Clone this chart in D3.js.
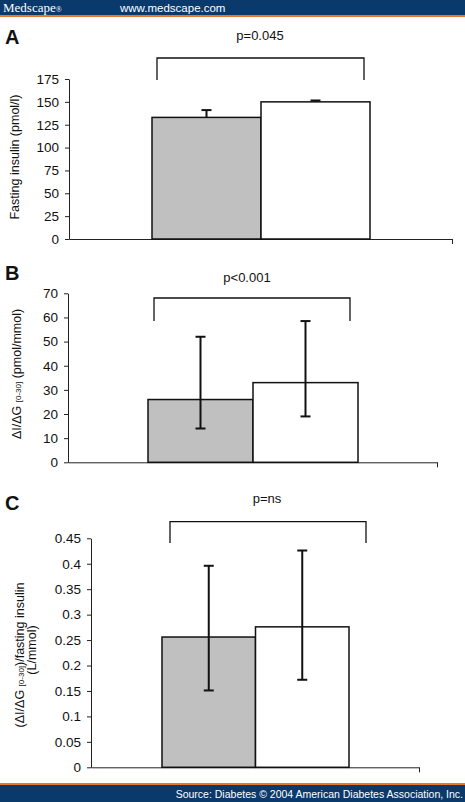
<!DOCTYPE html>
<html>
<head>
<meta charset="utf-8">
<script src="https://cdn.jsdelivr.net/npm/d3@7"></script>
<style>
  body { margin: 0; background: #fff; }
  svg { display: block; font-family: "Liberation Sans", Arial, sans-serif; }
  .tick text { font-size: 13px; fill: #111; }
</style>
</head>
<body>
<svg id="chart" width="465" height="802"></svg>
<script>
// two groups per panel: grey bar, white bar
const groups = ['grey', 'white'];

const insulinMean = [133, 150];
const insulinHigh = [141, 151.5];

const ratioMean = [26, 33];
const ratioHigh = [52, 58.5];
const ratioLow = [14, 19];

const normMean = [0.256, 0.276];
const normHigh = [0.396, 0.426];
const normLow = [0.151, 0.172];

const pLabels = ['p=0.045', 'p<0.001', 'p=ns'];
const insulinTicks = [0, 25, 50, 75, 100, 125, 150, 175];
const ratioTicks = [0, 10, 20, 30, 40, 50, 60, 70];
const normTicks = [0, 0.05, 0.1, 0.15, 0.2, 0.25, 0.3, 0.35, 0.4, 0.45];

const svg = d3.select('#chart');

// header / footer bands
svg.append('rect').attr('width', 465).attr('height', 15).style('fill', '#0a396c');
svg.append('rect').attr('y', 15).attr('width', 465).attr('height', 2).style('fill', '#e8792a');
svg.append('text').text('Medscape')
  .attr('x', 3).attr('y', 12)
  .style('font-family', '"Liberation Serif", "DejaVu Serif", serif')
  .style('font-size', '13px').style('fill', '#fff')
  .append('tspan').text('®').style('font-size', '8px');
svg.append('text').text('www.medscape.com')
  .attr('x', 120).attr('y', 12)
  .style('font-size', '11.5px').style('fill', '#fff');

svg.append('rect').attr('y', 783).attr('width', 465).attr('height', 2).style('fill', '#e8792a');
svg.append('rect').attr('y', 785).attr('width', 465).attr('height', 17).style('fill', '#0a396c');
svg.append('text').text('Source: Diabetes \u00a9 2004 American Diabetes Association, Inc.')
  .attr('x', 463).attr('y', 798).attr('text-anchor', 'end')
  .style('font-size', '10.5px').style('fill', '#fff');

const panels = [
  { letter: 'A', letterY: 44, mean: insulinMean, high: insulinHigh, low: null,
    ticks: insulinTicks, fmt: d3.format('d'),
    axisX: 69, axisEnd: 452, top: 79, base: 239, barL: 152, barR: 370,
    pX: 260, pY: 40, brY: 58, brL: 157, brR: 364, brB: 80 },
  { letter: 'B', letterY: 280, mean: ratioMean, high: ratioHigh, low: ratioLow,
    ticks: ratioTicks, fmt: d3.format('d'),
    axisX: 68, axisEnd: 437, top: 293.3, base: 462.3, barL: 148, barR: 358,
    pX: 247, pY: 282, brY: 298, brL: 154, brR: 350, brB: 321 },
  { letter: 'C', letterY: 510, mean: normMean, high: normHigh, low: normLow,
    ticks: normTicks, fmt: d => d === 0 ? '0' : String(+d.toFixed(2)),
    axisX: 91, axisEnd: 419, top: 538.3, base: 767.3, barL: 162, barR: 349,
    pX: 267, pY: 503, brY: 521.7, brL: 170, brR: 366, brB: 543 }
];

panels.forEach((p, i) => {
  const g = svg.append('g');

  g.append('text').text(p.letter)
    .attr('x', 5).attr('y', p.letterY)
    .style('font-size', '20px').style('font-weight', 'bold').style('fill', '#111');

  const y = d3.scaleLinear()
    .domain([0, p.ticks[p.ticks.length - 1]])
    .range([p.base, p.top]);
  const x = d3.scaleBand().domain(groups).range([p.barL, p.barR]).padding(0);

  const yAxis = g.append('g')
    .attr('transform', `translate(${p.axisX},0)`)
    .call(d3.axisLeft(y).tickValues(p.ticks).tickFormat(p.fmt).tickSize(4).tickSizeOuter(0).tickPadding(6));
  yAxis.select('.domain').attr('stroke', '#222');
  yAxis.selectAll('.tick line').attr('stroke', '#222');
  yAxis.selectAll('.tick text').style('font-size', '13.5px');

  const xs = d3.scaleLinear().domain([0, 1]).range([p.axisX, p.axisEnd]);
  const xAxis = g.append('g')
    .attr('transform', `translate(0,${p.base})`)
    .call(d3.axisBottom(xs).tickValues([1]).tickFormat('').tickSize(5).tickSizeOuter(0));
  xAxis.select('.domain').attr('stroke', '#222');
  xAxis.selectAll('.tick line').attr('stroke', '#222');

  g.selectAll('.bar')
    .data(groups)
    .enter()
    .append('rect')
    .attr('class', 'bar')
    .attr('x', d => x(d))
    .attr('width', x.bandwidth())
    .attr('y', (d, j) => y(p.mean[j]))
    .attr('height', (d, j) => y(0) - y(p.mean[j]))
    .style('fill', d => d === 'grey' ? '#c0c0c0' : '#fff')
    .style('stroke', '#111')
    .style('stroke-width', 1.5);

  // error bars
  groups.forEach((d, j) => {
    const cx = x(d) + x.bandwidth() / 2;
    const yHi = y(p.high[j]);
    const yLo = p.low ? y(p.low[j]) : y(p.mean[j]);
    g.append('line')
      .attr('x1', cx).attr('x2', cx).attr('y1', yHi).attr('y2', yLo)
      .style('stroke', '#111').style('stroke-width', 2);
    g.append('line')
      .attr('x1', cx - 5).attr('x2', cx + 5).attr('y1', yHi).attr('y2', yHi)
      .style('stroke', '#111').style('stroke-width', 2);
    if (p.low) {
      g.append('line')
        .attr('x1', cx - 5).attr('x2', cx + 5).attr('y1', yLo).attr('y2', yLo)
        .style('stroke', '#111').style('stroke-width', 2);
    }
  });

  // significance bracket
  g.append('path')
    .attr('d', `M${p.brL},${p.brB} V${p.brY} H${p.brR} V${p.brB}`)
    .style('fill', 'none').style('stroke', '#111').style('stroke-width', 1.3);
  g.append('text').text(pLabels[i])
    .attr('x', p.pX).attr('y', p.pY).attr('text-anchor', 'middle')
    .style('font-size', '13px').style('fill', '#111');
});

// y axis titles
svg.append('text')
  .attr('transform', 'translate(19,157) rotate(-90)')
  .attr('text-anchor', 'middle')
  .style('font-size', '12.5px').style('fill', '#111')
  .text('Fasting insulin (pmol/l)');

const tB = svg.append('text')
  .attr('transform', 'translate(21,374) rotate(-90)')
  .attr('text-anchor', 'middle')
  .style('font-size', '12.5px').style('fill', '#111');
tB.append('tspan').text('\u0394I/\u0394G ');
tB.append('tspan').text('[0-30]').style('font-size', '8px');
tB.append('tspan').text(' (pmol/mmol)');

const tC = svg.append('text')
  .attr('transform', 'translate(24,655) rotate(-90)')
  .attr('text-anchor', 'middle')
  .style('font-size', '12.5px').style('fill', '#111');
tC.append('tspan').text('(\u0394I/\u0394G ');
tC.append('tspan').text('[0-30]').style('font-size', '8px');
tC.append('tspan').text(')/fasting insulin');
svg.append('text')
  .attr('transform', 'translate(36,650) rotate(-90)')
  .attr('text-anchor', 'middle')
  .style('font-size', '12.5px').style('fill', '#111')
  .text('(L/mmol)');
</script>
</body>
</html>
